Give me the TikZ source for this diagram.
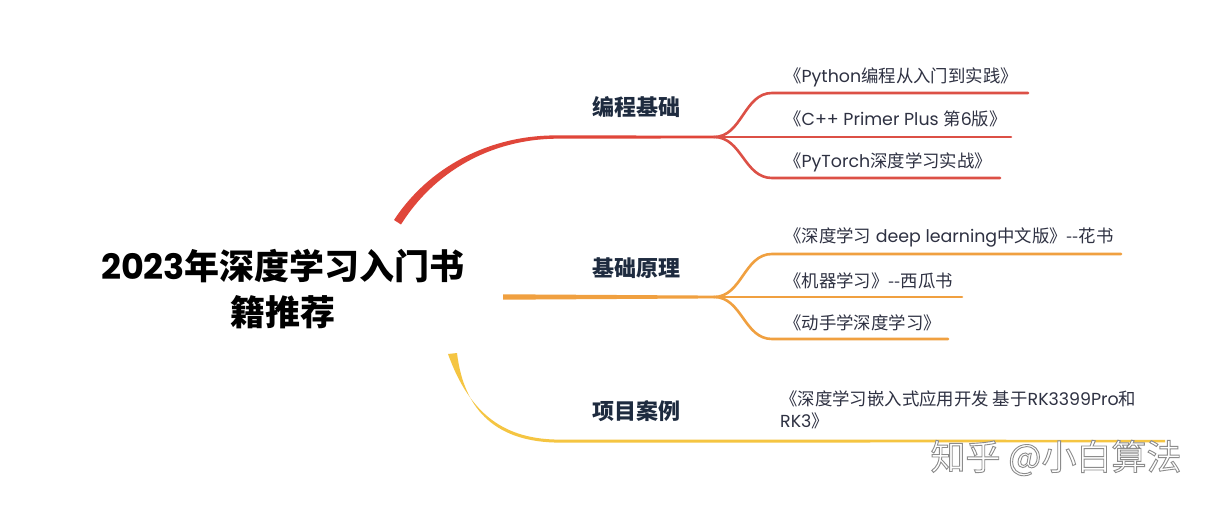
\documentclass[tikz,border=0pt]{standalone}
\usepackage{fontspec}
\newfontfamily\cjk{Noto Sans CJK SC}
\newfontfamily\pop{Poppins}
\newcommand\lat[1]{{\pop #1}}
\newcommand\outlinetext[1]{\special{pdf:literal direct 0.55 0.55 0.55 RG 0.9 w 2 Tr}#1\special{pdf:literal direct 0 Tr}}
\definecolor{cred}{HTML}{E0463A}
\definecolor{cleafred}{HTML}{DC5046}
\definecolor{corange}{HTML}{F0A040}
\definecolor{cyellow}{HTML}{F5C542}
\definecolor{clabel}{HTML}{1E2B3F}
\definecolor{cleaf}{HTML}{2E3142}
\tikzset{
  title/.style={font=\cjk\bfseries\fontsize{35}{46}\selectfont, align=center, text=black, inner sep=0},
  blabel/.style={font=\cjk\bfseries\fontsize{22}{24}\selectfont, text=clabel, inner sep=0},
  leaf/.style={font=\cjk\fontsize{17.4}{22}\selectfont, text=cleaf, anchor=west, inner sep=0, align=left},
  leafline/.style={line width=2.6pt, line cap=round},
  wm/.style={font=\cjk\fontsize{35}{40}\selectfont, inner sep=0},
}
\begin{document}
\begin{tikzpicture}[x=1pt,y=-1pt]
\useasboundingbox[fill=white] (0,0) rectangle (1218,505);

% title
\node[title] (root) at (283,289) {\lat{\bfseries 2023}年深度学习入门书\\籍推荐};

% branch labels
\node[blabel] (b1) at (636,107) {编程基础};
\node[blabel] (b2) at (636,268) {基础原理};
\node[blabel] (b3) at (636,411) {项目案例};

% fork points
\coordinate (f1) at (714,137);
\coordinate (f2) at (714,297);

% main branches (tapered)
\fill[cred] (394,220) .. controls (428,168) and (488,135.4) .. (556,135.4) -- (714,135.6)
  -- (714,138.4) -- (556,138.7) .. controls (490,139.5) and (434,172) .. (401,224.5) -- cycle;
\fill[corange] (503,294.3) -- (714,295.6) -- (714,298.4) -- (503,299.7) -- cycle;
\fill[cyellow] (448,354) .. controls (470,415) and (505,439.6) .. (560,439.6) -- (1165,439.8)
  -- (1165,442.4) -- (560,442.6) .. controls (498,442.6) and (464,412) .. (457,353) -- cycle;

% leaves: red
\coordinate (r1) at (1028,93);
\coordinate (r2) at (1011,137);
\coordinate (r3) at (1000,178);
\draw[leafline, cleafred] (f1) .. controls (742,137) and (744,93) .. (772,93) -- (r1);
\draw[leafline, cleafred] (f1) -- (r2);
\draw[leafline, cleafred] (f1) .. controls (742,137) and (744,178) .. (772,178) -- (r3);
\node[leaf] (l1) at (784,77) {《\lat{Python}编程从入门到实践》};
\node[leaf] (l2) at (784,119) {《\lat{C++ Primer Plus }第\lat{6}版》};
\node[leaf] (l3) at (784,162) {《\lat{PyTorch}深度学习实战》};

% leaves: orange
\coordinate (o1) at (1121,254);
\coordinate (o2) at (962,297);
\coordinate (o3) at (948,339);
\draw[leafline, corange] (f2) .. controls (742,297) and (744,254) .. (772,254) -- (o1);
\draw[leafline, corange] (f2) -- (o2);
\draw[leafline, corange] (f2) .. controls (742,297) and (744,339) .. (772,339) -- (o3);
\node[leaf] (l4) at (784,237) {《深度学习\lat{ deep learning}中文版》-{}-花书};
\node[leaf] (l5) at (784,281) {《机器学习》-{}-西瓜书};
\node[leaf] (l6) at (784,323) {《动手学深度学习》};

% leaf: yellow
\node[leaf, anchor=north west] (l7) at (780,391) {《深度学习嵌入式应用开发 基于\lat{RK3399Pro}和\\\lat{RK3}》};

% watermark
\node[wm, text=white] (wmark) at (1056,458) {\outlinetext{知乎 @小白算法}};
\end{tikzpicture}
\end{document}
